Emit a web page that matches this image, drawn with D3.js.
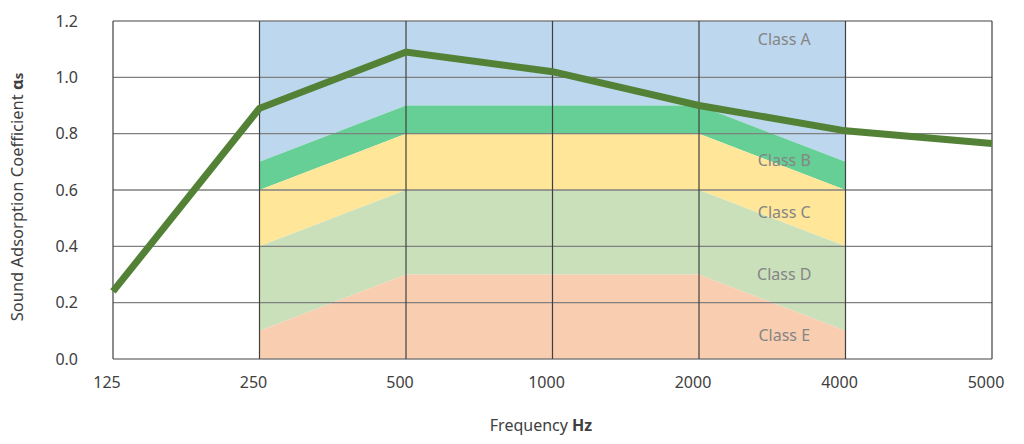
<!DOCTYPE html>
<html>
<head>
<meta charset="utf-8">
<title>Sound Absorption Classes</title>
<style>
  body { margin: 0; background: #fff; }
  text { font-family: "Noto Sans", "Open Sans", sans-serif; }
</style>
</head>
<body>
<script src="https://cdn.jsdelivr.net/npm/d3@7"></script>
<script>
// data
const frequencies = ["125", "250", "500", "1000", "2000", "4000", "5000"];
const coefficients = [0.24, 0.89, 1.09, 1.02, 0.9, 0.81, 0.765];
const yTicks = [0, 0.2, 0.4, 0.6, 0.8, 1.0, 1.2];

const bandFrequencies = ["250", "500", "1000", "2000", "4000"];
const classNames = ["Class A", "Class B", "Class C", "Class D", "Class E"];
const classColors = ["#bdd7ee", "#66cf95", "#ffe699", "#c9e0bb", "#f8cdb0"];
// upper/lower limits of each class at bandFrequencies
const classTop = [
  [1.2, 1.2, 1.2, 1.2, 1.2],
  [0.7, 0.9, 0.9, 0.9, 0.7],
  [0.6, 0.8, 0.8, 0.8, 0.6],
  [0.4, 0.6, 0.6, 0.6, 0.4],
  [0.1, 0.3, 0.3, 0.3, 0.1]
];
const classBottom = [
  [0.7, 0.9, 0.9, 0.9, 0.7],
  [0.6, 0.8, 0.8, 0.8, 0.6],
  [0.4, 0.6, 0.6, 0.6, 0.4],
  [0.1, 0.3, 0.3, 0.3, 0.1],
  [0, 0, 0, 0, 0]
];
const classLabelY = [1.135, 0.705, 0.52, 0.3, 0.085];

// layout
const width = 1024, height = 444;
const margin = {top: 21, right: 32, bottom: 85, left: 113};
const innerW = width - margin.left - margin.right;
const innerH = height - margin.top - margin.bottom;

const svg = d3.select("body").append("svg")
  .attr("width", width)
  .attr("height", height);

const x = d3.scalePoint().domain(frequencies).range([0, innerW]);
const y = d3.scaleLinear().domain([0, 1.2]).range([innerH, 0]);

const g = svg.append("g").attr("transform", `translate(${margin.left},${margin.top})`);

// class bands
classNames.forEach((name, i) => {
  const pts = bandFrequencies.map((f, j) => ({f, top: classTop[i][j], bottom: classBottom[i][j]}));
  const area = d3.area()
    .x(d => x(d.f))
    .y0(d => y(d.bottom))
    .y1(d => y(d.top));
  g.append("path")
    .datum(pts)
    .attr("d", area)
    .attr("fill", classColors[i]);
});

// horizontal grid
g.append("g")
  .selectAll("line")
  .data(yTicks)
  .join("line")
  .attr("x1", 0)
  .attr("x2", innerW)
  .attr("y1", d => y(d))
  .attr("y2", d => y(d))
  .attr("stroke", "#808080")
  .attr("stroke-width", 1.3);

// vertical grid
g.append("g")
  .selectAll("line")
  .data(frequencies)
  .join("line")
  .attr("x1", d => x(d))
  .attr("x2", d => x(d))
  .attr("y1", 0)
  .attr("y2", innerH)
  .attr("stroke", "#404040")
  .attr("stroke-width", 1.2);

// class labels
g.append("g")
  .selectAll("text")
  .data(classNames)
  .join("text")
  .attr("x", (x("2000") + x("4000")) / 2 + 12)
  .attr("y", (d, i) => y(classLabelY[i]))
  .attr("dy", "0.35em")
  .attr("text-anchor", "middle")
  .attr("fill", "#858585")
  .attr("font-size", 16)
  .text(d => d);

// measured curve
const line = d3.line()
  .x((d, i) => x(frequencies[i]))
  .y(d => y(d));
g.append("path")
  .datum(coefficients)
  .attr("d", line)
  .attr("fill", "none")
  .attr("stroke", "#538135")
  .attr("stroke-width", 7)
  .attr("stroke-linejoin", "miter");

// y axis labels
g.append("g")
  .selectAll("text")
  .data(yTicks)
  .join("text")
  .attr("x", -35)
  .attr("y", d => y(d))
  .attr("dy", "0.35em")
  .attr("text-anchor", "end")
  .attr("font-size", 16)
  .attr("fill", "#404040")
  .text(d => d.toFixed(1));

// x axis labels
g.append("g")
  .selectAll("text")
  .data(frequencies)
  .join("text")
  .attr("x", d => x(d) - 6)
  .attr("y", innerH + 29)
  .attr("text-anchor", "middle")
  .attr("font-size", 16)
  .attr("fill", "#404040")
  .text(d => d);

// axis titles
const xTitle = svg.append("text")
  .attr("x", 541)
  .attr("y", 431)
  .attr("text-anchor", "middle")
  .attr("font-size", 16)
  .attr("fill", "#404040");
xTitle.append("tspan").text("Frequency ");
xTitle.append("tspan").attr("font-weight", "bold").text("Hz");

const yTitle = svg.append("text")
  .attr("transform", "translate(23,197) rotate(-90)")
  .attr("text-anchor", "middle")
  .attr("font-size", 16.5)
  .attr("fill", "#404040");
yTitle.append("tspan").text("Sound Adsorption Coefficient ");
yTitle.append("tspan").attr("font-weight", "bold").text("α");
yTitle.append("tspan").attr("font-weight", "bold").attr("font-size", 13).text("s");
</script>
</body>
</html>
